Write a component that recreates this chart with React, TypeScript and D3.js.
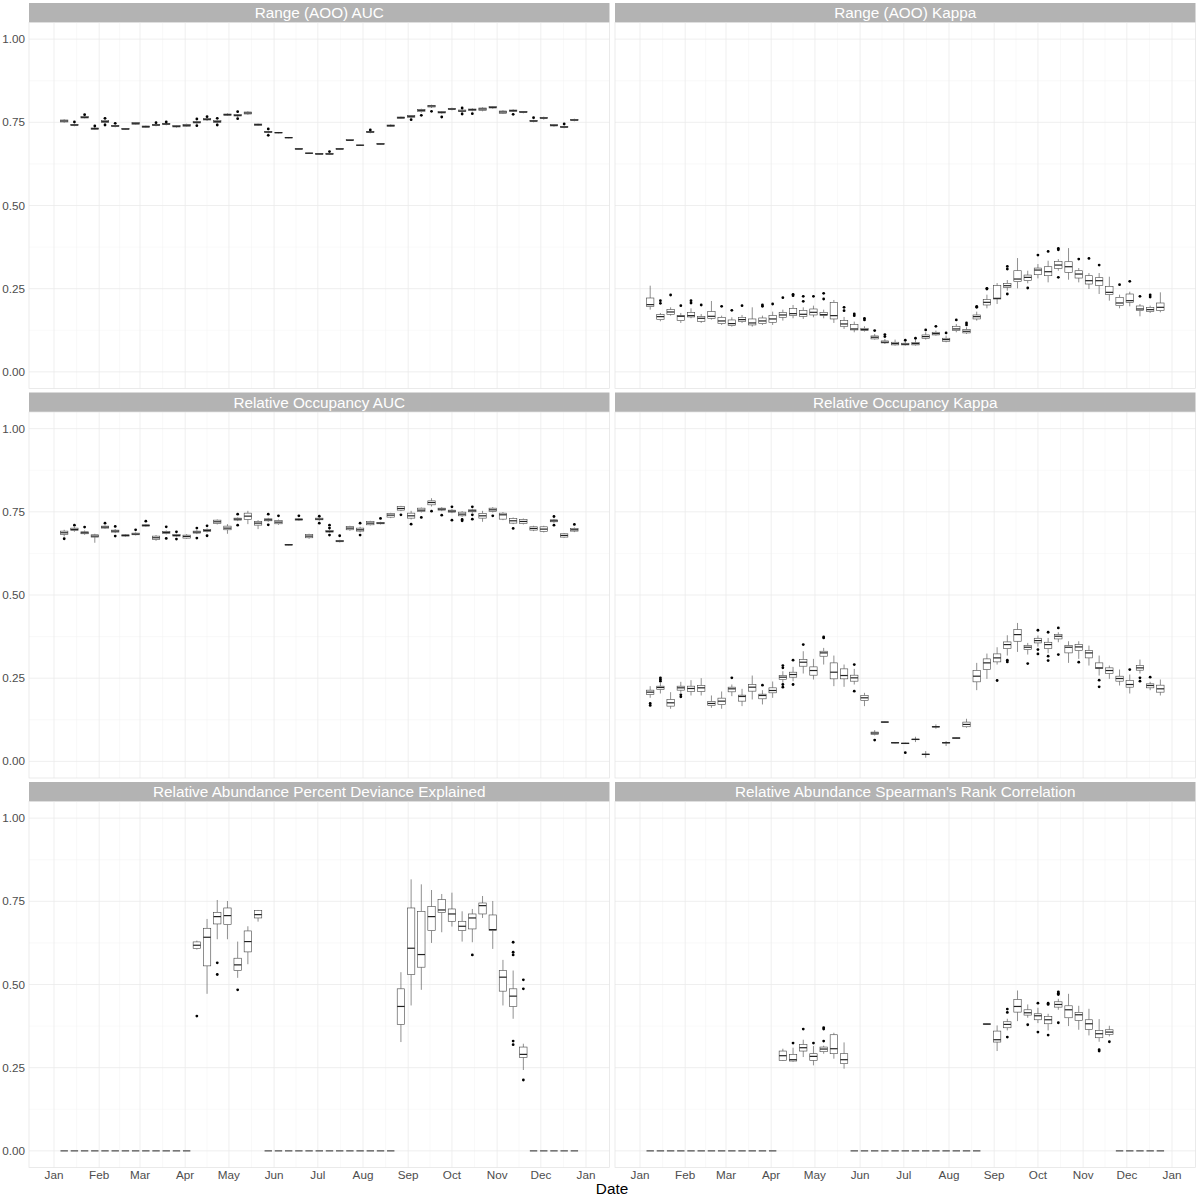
import React from "react";
import * as d3 from "d3";

// ---------- DATA ----------
// weekly sample dates (week index 0..50 starting Jan 8)
const FIRST_WEEK = new Date(2019, 0, 8);
const WEEK_COUNT = 51;

const facetTitles = [
  "Range (AOO) AUC",
  "Range (AOO) Kappa",
  "Relative Occupancy AUC",
  "Relative Occupancy Kappa",
  "Relative Abundance Percent Deviance Explained",
  "Relative Abundance Spearman's Rank Correlation",
];

const yTicks = [0, 0.25, 0.5, 0.75, 1];
const yMinor = [0.125, 0.375, 0.625, 0.875];

// [lower whisker, q1, median, q3, upper whisker]
const rangeAucStats = [
  [.749,.751,.754,.757,.759],[.738,.740,.742,.744,.745],[.762,.763,.765,.767,.768],[.727,.729,.731,.733,.735],
  [.745,.749,.752,.755,.758],[.735,.737,.739,.741,.742],[.728,.729,.730,.731,.732],[.742,.744,.747,.750,.751],
  [.733,.735,.737,.739,.740],[.738,.740,.742,.744,.745],[.741,.743,.745,.747,.748],[.734,.736,.738,.740,.741],
  [.736,.738,.741,.744,.746],[.745,.748,.750,.752,.754],[.754,.757,.759,.761,.763],[.746,.750,.752,.755,.757],
  [.769,.771,.773,.775,.777],[.766,.769,.771,.773,.775],[.773,.775,.778,.781,.783],[.739,.741,.743,.745,.746],
  [.716,.719,.721,.723,.725],[.717,.718,.719,.720,.721],[.702,.703,.704,.705,.706],[.668,.669,.670,.671,.672],
  [.655,.656,.657,.658,.659],[.653,.654,.655,.656,.657],[.653,.654,.655,.657,.658],[.668,.669,.670,.671,.672],
  [.694,.695,.696,.698,.699],[.679,.680,.681,.682,.683],[.717,.719,.721,.723,.724],[.683,.684,.685,.686,.687],
  [.736,.738,.740,.742,.744],[.760,.762,.764,.766,.767],[.763,.765,.768,.770,.771],[.779,.782,.786,.789,.791],
  [.793,.796,.799,.801,.803],[.776,.778,.780,.782,.784],[.786,.788,.790,.792,.794],[.778,.782,.784,.787,.789],
  [.783,.786,.788,.790,.792],[.783,.786,.790,.793,.795],[.791,.793,.795,.797,.798],[.775,.777,.781,.784,.786],
  [.781,.783,.785,.787,.789],[.777,.779,.781,.783,.784],[.750,.752,.754,.756,.758],[.758,.761,.763,.765,.767],
  [.737,.739,.741,.743,.744],[.732,.734,.736,.738,.739],[.753,.755,.757,.759,.761],
];
const rangeAucOut = [
  [],[.751],[.773],[.739],[.762,.742],[.747],[],[],[],[.749],[.751],[],[],[.760,.740],[.767],[.762,.742],
  [],[.782,.761],[],[],[.730,.711],[],[],[],[],[],[.662],[],[],[],[.727],[],[],[],[.758],[.771],[.783],
  [.766],[],[.793,.775],[.776],[],[],[],[.774],[],[.764],[],[],[.745],[],
];

const rangeKappaStats = [
  [.187,.196,.202,.222,.259],[.152,.157,.166,.172,.177],[.169,.173,.180,.187,.194],[.147,.154,.167,.169,.177],
  [.161,.165,.169,.179,.191],[.147,.152,.161,.166,.174],[.157,.161,.167,.181,.213],[.141,.145,.153,.164,.169],
  [.136,.139,.145,.156,.164],[.147,.151,.157,.164,.171],[.136,.141,.147,.159,.194],[.141,.145,.153,.162,.169],
  [.141,.149,.159,.169,.181],[.154,.164,.171,.179,.187],[.161,.169,.175,.191,.201],[.159,.167,.173,.185,.194],
  [.164,.171,.179,.189,.199],[.161,.169,.172,.179,.187],[.147,.159,.169,.209,.216],[.129,.137,.144,.154,.165],
  [.119,.126,.129,.142,.151],[.121,.124,.127,.131,.137],[.097,.099,.104,.108,.114],[.084,.087,.089,.093,.099],
  [.079,.081,.085,.089,.097],[.079,.081,.083,.086,.090],[.079,.081,.085,.088,.097],[.097,.101,.106,.111,.119],
  [.109,.111,.115,.119,.124],[.089,.092,.097,.101,.109],[.119,.124,.129,.137,.144],[.114,.117,.122,.127,.134],
  [.154,.159,.166,.171,.181],[.191,.201,.209,.217,.232],[.204,.219,.221,.259,.267],[.244,.254,.259,.266,.276],
  [.251,.271,.279,.304,.342],[.266,.274,.284,.291,.304],[.281,.292,.306,.312,.324],[.269,.289,.301,.316,.334],
  [.304,.311,.321,.332,.339],[.277,.299,.316,.331,.372],[.269,.282,.294,.304,.312],[.249,.264,.274,.289,.297],
  [.234,.259,.274,.283,.297],[.214,.232,.239,.257,.286],[.191,.199,.207,.224,.232],[.197,.209,.214,.234,.241],
  [.167,.184,.189,.198,.204],[.177,.181,.187,.194,.199],[.179,.184,.194,.207,.239],
];
const rangeKappaOut = [
  [],[.214,.206],[.231],[.199],[.214,.207],[.201],[],[.197],[.185],[.199],[],[.201,.197],[.204],[.223],
  [.233,.229],[.227,.212],[.227],[.236,.219],[],[.194,.184],[.174,.169],[.161,.156],[.124],[.112,.106],[],
  [.095],[.101],[.126],[.137],[.117],[.156],[.147,.141],[.197,.194],[.251,.249],[],[.317,.309,.234],[],
  [.252],[.351],[.362],[.371,.367,.284],[],[.339],[.341],[.321],[],[.262],[.272],[.227],[.231,.225],[],
];

const occAucStats = [
  [.676,.682,.687,.692,.696],[.690,.694,.697,.701,.704],[.681,.684,.687,.690,.694],[.657,.674,.677,.681,.684],
  [.699,.701,.704,.707,.709],[.686,.689,.692,.695,.698],[.675,.677,.679,.681,.683],[.679,.681,.683,.686,.688],
  [.705,.707,.709,.711,.713],[.663,.667,.672,.677,.680],[.682,.685,.688,.691,.694],[.675,.677,.679,.682,.684],
  [.669,.671,.676,.680,.683],[.683,.686,.689,.692,.695],[.688,.691,.694,.697,.700],[.712,.715,.720,.725,.727],
  [.684,.696,.701,.707,.713],[.722,.725,.728,.731,.733],[.713,.727,.737,.746,.753],[.698,.710,.716,.721,.725],
  [.720,.723,.726,.729,.732],[.711,.714,.719,.724,.727],[.649,.650,.651,.652,.653],[.723,.725,.727,.729,.730],
  [.669,.672,.677,.682,.684],[.723,.726,.728,.731,.733],[.687,.689,.691,.694,.697],[.658,.660,.662,.664,.666],
  [.693,.696,.701,.706,.708],[.688,.692,.696,.701,.705],[.709,.711,.716,.721,.723],[.712,.714,.716,.718,.720],
  [.731,.734,.740,.745,.747],[.752,.755,.760,.766,.768],[.727,.731,.738,.746,.753],[.748,.751,.755,.761,.763],
  [.766,.771,.778,.783,.791],[.752,.755,.758,.761,.764],[.746,.749,.752,.755,.758],[.735,.738,.743,.749,.752],
  [.747,.750,.753,.756,.759],[.720,.731,.738,.745,.753],[.748,.751,.756,.761,.764],[.725,.728,.741,.746,.749],
  [.713,.716,.723,.730,.733],[.712,.715,.721,.727,.730],[.692,.695,.700,.705,.708],[.688,.691,.698,.705,.708],
  [.717,.720,.723,.726,.729],[.672,.674,.679,.684,.686],[.689,.692,.696,.700,.703],
];
const occAucOut = [
  [.669],[.710],[.704],[],[.716],[.706,.677],[],[.696],[.722],[],[.705,.670],[.690,.668],[],[.701,.671],
  [.708,.678],[],[],[.743,.710],[],[],[.743,.711],[.738],[],[.738],[],[.737,.716],[.710,.701,.680],[.678],
  [],[.716,.680],[],[.730],[],[.741],[.713],[.733],[.752],[.740],[.765,.725],[.727,.723],[.765,.741,.728],
  [],[.738],[],[.700],[],[],[],[.736,.710],[],[.712],
];

const occKappaStats = [
  [.191,.201,.208,.214,.226],[.204,.216,.222,.226,.236],[.158,.166,.176,.186,.208],[.206,.214,.221,.226,.239],
  [.198,.210,.219,.226,.244],[.198,.210,.221,.228,.250],[.161,.168,.174,.180,.198],[.158,.171,.181,.190,.210],
  [.196,.209,.218,.223,.231],[.166,.181,.195,.199,.218],[.186,.211,.223,.231,.258],[.171,.188,.198,.202,.214],
  [.191,.206,.213,.221,.240],[.236,.246,.253,.258,.271],[.241,.253,.261,.268,.284],[.264,.286,.298,.306,.331],
  [.246,.259,.273,.284,.308],[.291,.316,.326,.331,.341],[.226,.248,.268,.296,.318],[.224,.248,.258,.278,.291],
  [.231,.241,.251,.259,.278],[.166,.183,.191,.198,.206],[.078,.081,.085,.088,.094],[.116,.117,.118,.119,.120],
  [.054,.055,.056,.057,.058],[.052,.053,.054,.055,.056],[.058,.065,.066,.067,.074],[.011,.020,.021,.022,.031],
  [.098,.103,.104,.105,.111],[.046,.055,.056,.057,.061],[.068,.069,.070,.071,.072],[.101,.104,.111,.118,.128],
  [.214,.239,.256,.273,.296],[.248,.276,.296,.308,.324],[.291,.299,.311,.323,.343],[.318,.339,.351,.359,.379],
  [.329,.361,.381,.396,.416],[.321,.336,.343,.348,.356],[.345,.356,.363,.370,.378],[.325,.339,.351,.358,.371],
  [.358,.368,.376,.381,.388],[.296,.326,.343,.348,.361],[.308,.333,.344,.351,.361],[.288,.311,.326,.333,.348],
  [.258,.279,.281,.296,.318],[.248,.264,.273,.281,.288],[.228,.241,.249,.256,.276],[.204,.223,.231,.243,.261],
  [.264,.274,.281,.288,.306],[.214,.221,.228,.233,.239],[.198,.208,.218,.229,.246],
];
const occKappaOut = [
  [.174,.168],[.251,.246,.241],[],[.200,.194],[],[],[],[],[.251],[],[],[.229],[],[.288,.281,.231,.223],
  [.304,.231],[.351],[],[.374,.371],[],[],[.291,.211],[],[.064],[],[],[.026],[],[],[],[],[],[],[],[],
  [.243],[.304,.299],[],[.294],[.394,.336,.323],[.388,.316,.303],[.401,.321],[],[.298],[],[.244,.224],
  [],[],[.276],[.251,.241],[.253],[],
];

// abundance facets: weeks with fitted boxes, and weeks where every value is 0
const abundanceWeeks = [13,14,15,16,17,18,19,33,34,35,36,37,38,39,40,41,42,43,44,45];
const zeroWeeks = [0,1,2,3,4,5,6,7,8,9,10,11,12,20,21,22,23,24,25,26,27,28,29,30,31,32,46,47,48,49,50];

const devianceStats = [
  [.605,.608,.618,.628,.632],[.472,.556,.642,.669,.697],[.636,.682,.704,.717,.754],[.636,.680,.707,.730,.751],
  [.520,.542,.559,.579,.629],[.561,.598,.629,.661,.675],[.689,.700,.710,.722,.724],[.327,.380,.434,.487,.537],
  [.437,.530,.609,.730,.816],[.484,.552,.590,.720,.801],[.625,.662,.704,.734,.784],[.657,.716,.724,.755,.772],
  [.674,.690,.712,.727,.776],[.629,.662,.675,.690,.720],[.627,.667,.700,.712,.727],[.700,.712,.737,.745,.766],
  [.607,.662,.665,.709,.751],[.437,.480,.522,.542,.574],[.397,.434,.465,.487,.542],[.243,.281,.290,.312,.322],
];
const devianceOut = [
  [.405],[],[.565,.530],[],[.484],[],[],[],[],[],[],[],[],[],[.589],[],[],[],
  [.627,.597,.589,.330,.319],[.514,.487,.213],
];

const spearmanStats = [
  [.270,.272,.286,.300,.307],[.268,.270,.274,.290,.310],[.282,.300,.310,.320,.334],[.257,.272,.284,.292,.315],
  [.292,.298,.306,.312,.316],[.277,.292,.307,.349,.355],[.247,.262,.274,.292,.326],[.379,.380,.381,.382,.383],
  [.300,.327,.334,.360,.377],[.362,.370,.380,.388,.397],[.390,.417,.434,.455,.482],[.400,.408,.415,.424,.440],
  [.384,.394,.406,.412,.430],[.362,.382,.394,.404,.412],[.424,.432,.440,.448,.457],[.375,.400,.424,.436,.472],
  [.364,.392,.409,.416,.436],[.347,.365,.382,.394,.427],[.328,.340,.352,.362,.396],[.344,.350,.357,.364,.376],
];
const spearmanOut = [
  [],[.324],[.366],[.324],[.366,.370,.330],[],[],[],[],[.426,.416,.342],[],[.379],[.444,.357],
  [.444,.440,.348],[.478,.474,.470,.385],[],[],[],[.304,.300],[.328],
];

// ---------- LAYOUT ----------
const FONT = "'Liberation Sans', Arial, Helvetica, sans-serif";
const COL_X = [29, 615];
const PANEL_W = 580.5;
const STRIP_TOP = [3, 392.5, 782];
const STRIP_H = 19.5;
const PANEL_H = 366;
const BOX_HW = 3.7;

const allWeeks = d3.range(WEEK_COUNT);

type Facet = {
  title: string;
  weeks: number[];
  stats: number[][];
  out: number[][];
  zeros: number[];
};

const facets: Facet[] = [
  { title: facetTitles[0], weeks: allWeeks, stats: rangeAucStats, out: rangeAucOut, zeros: [] },
  { title: facetTitles[1], weeks: allWeeks, stats: rangeKappaStats, out: rangeKappaOut, zeros: [] },
  { title: facetTitles[2], weeks: allWeeks, stats: occAucStats, out: occAucOut, zeros: [] },
  { title: facetTitles[3], weeks: allWeeks, stats: occKappaStats, out: occKappaOut, zeros: [] },
  { title: facetTitles[4], weeks: abundanceWeeks, stats: devianceStats, out: devianceOut, zeros: zeroWeeks },
  { title: facetTitles[5], weeks: abundanceWeeks, stats: spearmanStats, out: spearmanOut, zeros: zeroWeeks },
];

const weekDate = (i: number) => d3.timeDay.offset(FIRST_WEEK, 7 * i);
const YEAR_START = new Date(2019, 0, 1);
const DAY = 864e5;
const monthTicks = d3.timeMonth.range(YEAR_START, new Date(2020, 0, 2));
const monthMinor = monthTicks.slice(0, -1).map((m, i) => new Date((m.getTime() + monthTicks[i + 1].getTime()) / 2));
const fmtMonth = d3.timeFormat("%b");

function Panel({ facet, col, row }: { facet: Facet; col: number; row: number }) {
  const x0 = COL_X[col];
  const top = STRIP_TOP[row] + STRIP_H;
  const x = d3
    .scaleTime()
    .domain([new Date(YEAR_START.getTime() - 17.15 * DAY), new Date(YEAR_START.getTime() + 381.1 * DAY)])
    .range([x0, x0 + PANEL_W]);
  const y = d3.scaleLinear().domain([-0.05, 1.05]).range([top + PANEL_H, top]);

  return (
    <g>
      {/* strip */}
      <rect x={x0} y={STRIP_TOP[row]} width={PANEL_W} height={STRIP_H} fill="#b3b3b3" />
      <text
        x={x0 + PANEL_W / 2}
        y={STRIP_TOP[row] + STRIP_H / 2 + 5.3}
        textAnchor="middle"
        fill="#ffffff"
        fontSize={15.3}
      >
        {facet.title}
      </text>
      {/* grid */}
      {yMinor.map((v) => (
        <line key={"ym" + v} x1={x0} x2={x0 + PANEL_W} y1={y(v)} y2={y(v)} stroke="#f3f3f3" strokeWidth={0.5} />
      ))}
      {monthMinor.map((d, i) => (
        <line key={"xm" + i} x1={x(d)} x2={x(d)} y1={top} y2={top + PANEL_H} stroke="#f3f3f3" strokeWidth={0.5} />
      ))}
      {yTicks.map((v) => (
        <line key={"y" + v} x1={x0} x2={x0 + PANEL_W} y1={y(v)} y2={y(v)} stroke="#ebebeb" strokeWidth={0.8} />
      ))}
      {monthTicks.map((d, i) => (
        <line key={"x" + i} x1={x(d)} x2={x(d)} y1={top} y2={top + PANEL_H} stroke="#ebebeb" strokeWidth={0.8} />
      ))}
      {/* panel border */}
      <rect x={x0} y={top} width={PANEL_W} height={PANEL_H} fill="none" stroke="#e2e2e2" strokeWidth={0.7} />
      {/* zero-valued weeks */}
      {facet.zeros.map((w) => {
        const cx = x(weekDate(w));
        return (
          <line key={"z" + w} x1={cx - BOX_HW} x2={cx + BOX_HW} y1={y(0)} y2={y(0)} stroke="#555555" strokeWidth={1.3} />
        );
      })}
      {/* boxplots */}
      {facet.weeks.map((w, i) => {
        const [lo, q1, med, q3, hi] = facet.stats[i];
        const cx = x(weekDate(w));
        return (
          <g key={"b" + w}>
            <line x1={cx} x2={cx} y1={y(hi)} y2={y(q3)} stroke="#444444" strokeWidth={0.6} />
            <line x1={cx} x2={cx} y1={y(q1)} y2={y(lo)} stroke="#444444" strokeWidth={0.6} />
            <rect
              x={cx - BOX_HW}
              y={y(q3)}
              width={BOX_HW * 2}
              height={Math.max(0, y(q1) - y(q3))}
              fill="#ffffff"
              stroke="#444444"
              strokeWidth={0.6}
            />
            <line x1={cx - BOX_HW} x2={cx + BOX_HW} y1={y(med)} y2={y(med)} stroke="#222222" strokeWidth={1.2} />
            {facet.out[i].map((o, j) => (
              <circle key={j} cx={cx} cy={y(o)} r={1.4} fill="#000000" />
            ))}
          </g>
        );
      })}
      {/* y axis labels (left column only) */}
      {col === 0 &&
        yTicks.map((v) => (
          <text key={"yl" + v} x={25} y={y(v) + 4} textAnchor="end" fill="#4d4d4d" fontSize={11.7}>
            {v.toFixed(2)}
          </text>
        ))}
      {/* x axis labels (bottom row only) */}
      {row === 2 &&
        monthTicks.map((d, i) => (
          <text key={"xl" + i} x={x(d)} y={1179} textAnchor="middle" fill="#4d4d4d" fontSize={11.7}>
            {fmtMonth(d)}
          </text>
        ))}
    </g>
  );
}

export default function App() {
  return (
    <div style={{ position: "absolute", left: 0, top: 0 }}>
      <svg width={1200} height={1200} style={{ display: "block", background: "#ffffff" }} fontFamily={FONT}>
        <rect x={0} y={0} width={1200} height={1200} fill="#ffffff" />
        {facets.map((f, i) => (
          <Panel key={i} facet={f} col={i % 2} row={Math.floor(i / 2)} />
        ))}
        <text x={612} y={1194} textAnchor="middle" fill="#000000" fontSize={15.3}>
          Date
        </text>
      </svg>
    </div>
  );
}
